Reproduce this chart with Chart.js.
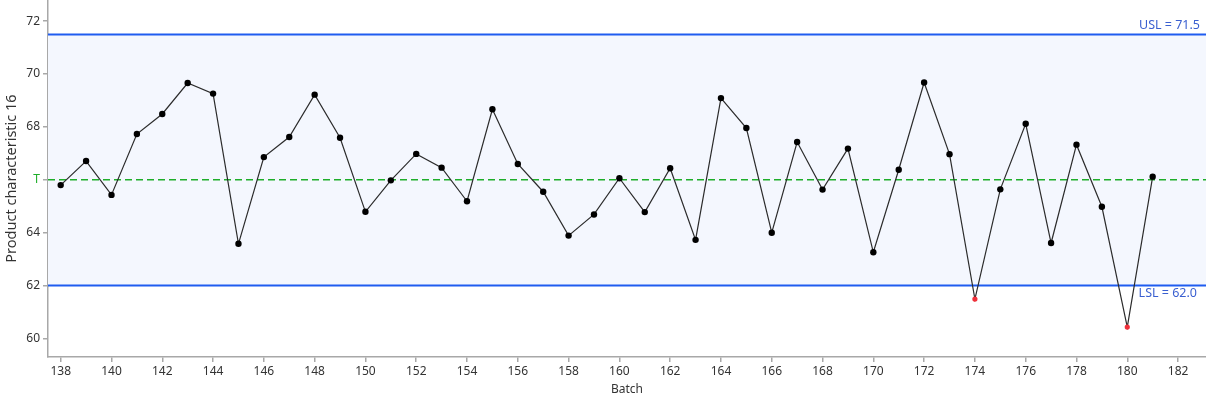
<!DOCTYPE html>
<html>
<head>
<meta charset="utf-8">
<script src="https://cdn.jsdelivr.net/npm/chart.js@4.4.1/dist/chart.umd.min.js"></script>
<style>
  html, body { margin: 0; padding: 0; background: #ffffff; }
  #wrap { width: 1206px; height: 399px; position: relative; }
</style>
</head>
<body>
<div id="wrap"><canvas id="c"></canvas></div>
<script>
// ---- data ----
const batches = [138,139,140,141,142,143,144,145,146,147,148,149,150,151,152,153,154,155,156,157,158,159,160,161,162,163,164,165,166,167,168,169,170,171,172,173,174,175,176,177,178,179,180,181];
const values  = [65.80,66.71,65.43,67.73,68.49,69.66,69.26,63.58,66.86,67.62,69.22,67.59,64.79,65.98,66.98,66.46,65.19,68.67,66.60,65.55,63.89,64.69,66.06,64.78,66.44,63.73,69.09,67.96,64.00,67.43,65.63,67.18,63.26,66.38,69.68,66.97,61.49,65.64,68.12,63.61,67.33,64.98,60.43,66.12];
const USL = 71.5;
const LSL = 62.0;
const TARGET = 66;
const xTicks = [138,140,142,144,146,148,150,152,154,156,158,160,162,164,166,168,170,172,174,176,178,180,182];
const yTicks = [60,62,64,66,68,70,72];
const xRange = [137.5, 183.1];
const yRange = [59.3, 72.8];

const FONT = "'Noto Sans', 'DejaVu Sans', sans-serif";
const BLUE = '#1f5cf0';
const LABEL_BLUE = '#3a5fd0';
const GREEN = '#1fae2a';
const AXIS = '#a8a8a8';
const TEXT = '#333333';

const points = batches.map((b, i) => ({ x: b, y: values[i] }));
const outOfSpec = v => v < LSL || v > USL;

const specLabels = {
  id: 'specLabels',
  afterDatasetsDraw(chart) {
    const { ctx, chartArea, scales } = chart;
    const yU = scales.y.getPixelForValue(USL);
    const yL = scales.y.getPixelForValue(LSL);
    ctx.save();
    ctx.font = "12.5px " + FONT;
    ctx.fillStyle = LABEL_BLUE;
    ctx.textAlign = 'right';
    ctx.textBaseline = 'bottom';
    ctx.fillText('USL = ' + USL.toFixed(1), chartArea.right - 6, yU - 3);
    ctx.textBaseline = 'top';
    ctx.fillText('LSL = ' + LSL.toFixed(1), chartArea.right - 9, yL + 2);
    ctx.restore();
  }
};

new Chart(document.getElementById('c'), {
  type: 'line',
  data: {
    datasets: [
      {
        label: 'data',
        data: points,
        borderColor: '#2b2b2b',
        borderWidth: 1.2,
        tension: 0,
        pointRadius: ctx => outOfSpec(ctx.raw.y) ? 2.6 : 3.2,
        pointBackgroundColor: ctx => outOfSpec(ctx.raw.y) ? '#f0303a' : '#000000',
        pointBorderWidth: 0,
        pointBorderColor: 'rgba(0,0,0,0)',
        order: 0
      },
      {
        label: 'target',
        data: [{ x: xRange[0], y: TARGET }, { x: xRange[1], y: TARGET }],
        borderColor: GREEN,
        borderWidth: 1.4,
        borderDash: [7, 4],
        pointRadius: 0,
        order: 1
      },
      {
        label: 'USL',
        data: [{ x: xRange[0], y: USL }, { x: xRange[1], y: USL }],
        borderColor: BLUE,
        borderWidth: 2,
        pointRadius: 0,
        fill: '+1',
        backgroundColor: '#f4f7fe',
        order: 3
      },
      {
        label: 'LSL',
        data: [{ x: xRange[0], y: LSL }, { x: xRange[1], y: LSL }],
        borderColor: BLUE,
        borderWidth: 2,
        pointRadius: 0,
        order: 2
      }
    ]
  },
  options: {
    responsive: true,
    maintainAspectRatio: false,
    animation: false,
    layout: { padding: 0, autoPadding: false },
    plugins: {
      legend: { display: false },
      tooltip: { enabled: false },
      filler: { propagate: false }
    },
    scales: {
      x: {
        type: 'linear',
        min: xRange[0],
        max: xRange[1],
        afterBuildTicks: s => { s.ticks = xTicks.map(v => ({ value: v })); },
        afterFit: s => { s.height = 42; s.paddingLeft = 0; s.paddingRight = 0; },
        grid: { drawOnChartArea: false, drawTicks: true, tickLength: 5, color: AXIS, lineWidth: 1.5 },
        border: { display: true, color: AXIS, width: 1.5 },
        ticks: { color: TEXT, font: { family: FONT, size: 12 }, padding: 2, maxRotation: 0, autoSkip: false },
        title: { display: true, text: 'Batch', color: TEXT, font: { family: FONT, size: 12 }, padding: { top: 0, bottom: 2 } }
      },
      y: {
        type: 'linear',
        min: yRange[0],
        max: yRange[1],
        afterBuildTicks: s => { s.ticks = yTicks.map(v => ({ value: v })); },
        afterFit: s => { s.width = 48; s.paddingTop = 0; s.paddingBottom = 0; },
        grid: { drawOnChartArea: false, drawTicks: true, tickLength: 5, color: AXIS, lineWidth: 1.5 },
        border: { display: true, color: AXIS, width: 1.5 },
        ticks: {
          color: ctx => ctx.tick && ctx.tick.value === TARGET ? GREEN : TEXT,
          font: { family: FONT, size: 12 },
          padding: 3,
          callback: v => v === TARGET ? 'T' : String(v)
        },
        title: { display: true, text: 'Product characteristic 16', color: TEXT, font: { family: FONT, size: 14.5 }, padding: { top: 3, bottom: 2 } }
      }
    }
  },
  plugins: [specLabels]
});
</script>
</body>
</html>
